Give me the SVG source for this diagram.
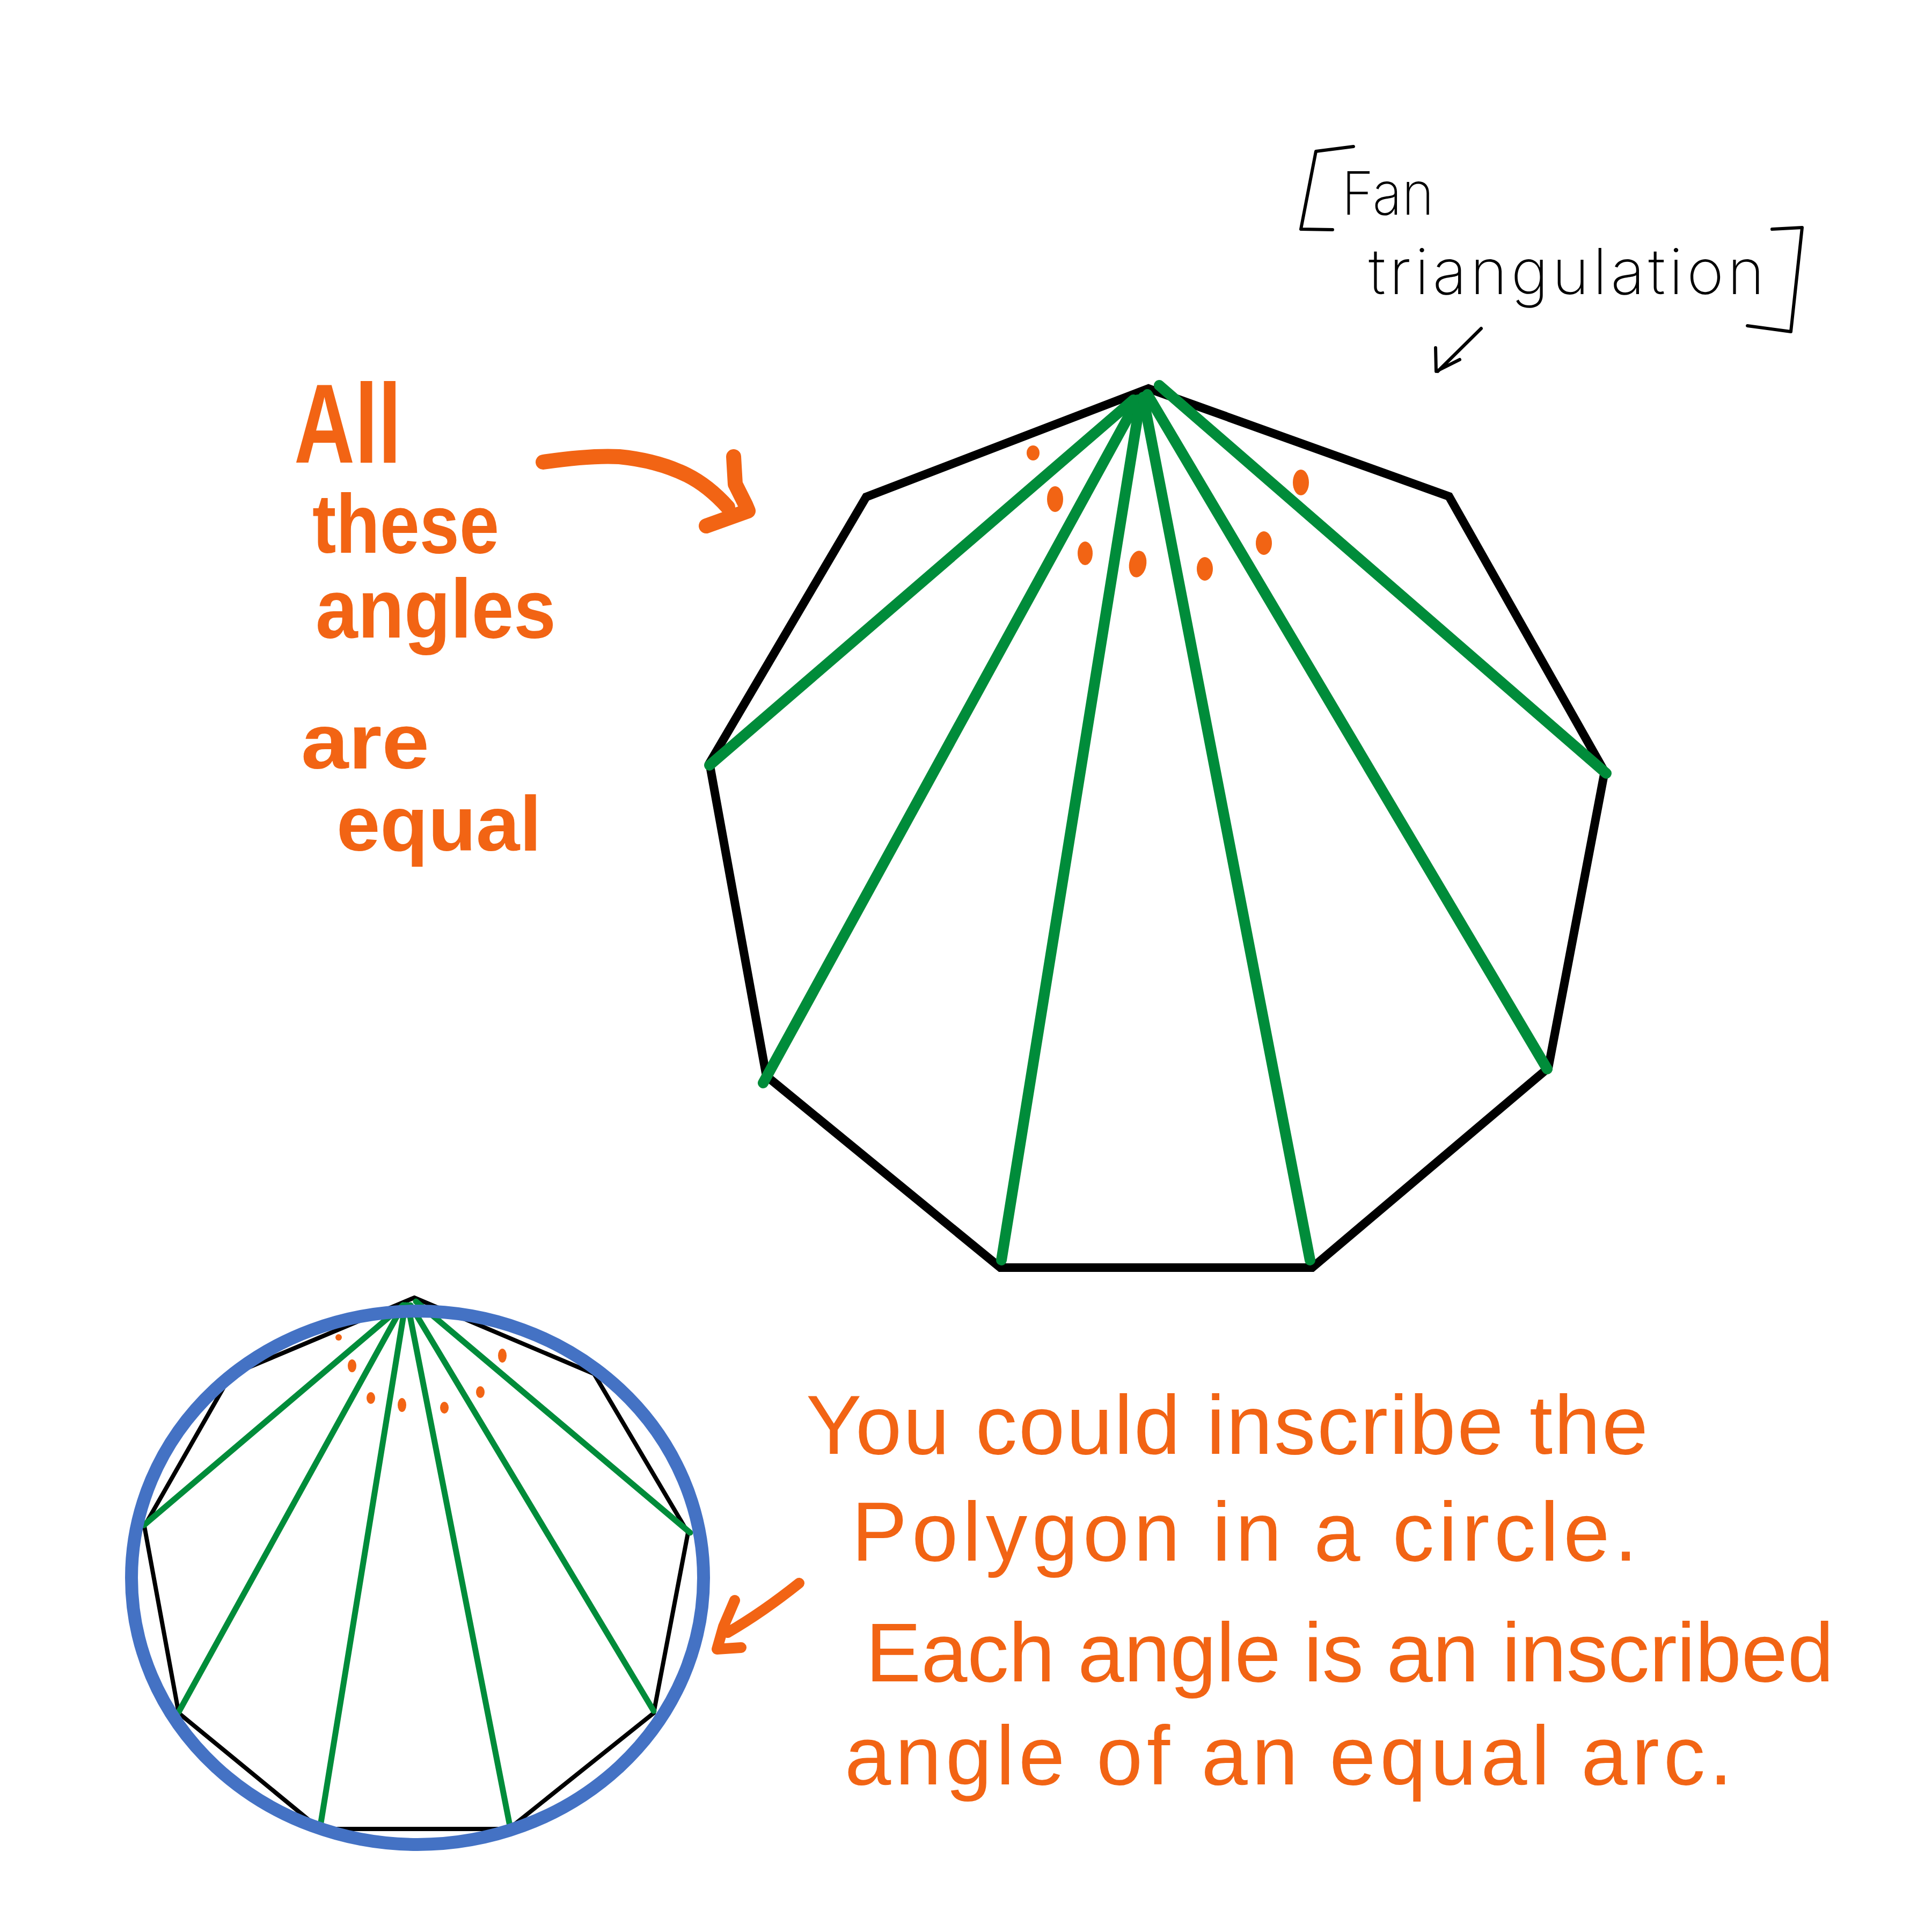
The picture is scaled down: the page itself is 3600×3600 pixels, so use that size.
<svg xmlns="http://www.w3.org/2000/svg" width="3600" height="3600" viewBox="0 0 3600 3600">
<style>
.poly{fill:none;stroke:#000;stroke-width:16;stroke-linejoin:miter;stroke-linecap:round}
.fan{fill:none;stroke:#008C3A;stroke-width:20;stroke-linecap:round}
.spoly{fill:none;stroke:#000;stroke-width:8;stroke-linejoin:miter}
.sfan{fill:none;stroke:#008C3A;stroke-width:11;stroke-linecap:round}
.dot{fill:#F26414}
.oarrow{fill:none;stroke:#F26414;stroke-linecap:round;stroke-linejoin:round}
.thin{fill:none;stroke:#000;stroke-width:6;stroke-linecap:round;stroke-linejoin:round}
.note{font-family:Inter,"Liberation Sans",sans-serif;font-weight:200;fill:#000}
.big{font-family:"Liberation Sans",Arial,sans-serif;font-weight:bold;fill:#F26414}
.hand{font-family:"Liberation Sans",Arial,sans-serif;fill:#F26414}
</style>
<rect width="3600" height="3600" fill="#fff"/>

<g id="main-nonagon">
<polygon class="poly" points="2140,724 2700,925 2990,1438 2885,1990 2445,2362 1864,2362 1428,2005 1322,1422 1614,926"/>
</g>

<g id="connectors">
<g id="main-fan">
<line class="fan" x1="2112" y1="745" x2="1322" y2="1426"/>
<line class="fan" x1="2120" y1="745" x2="1422" y2="2018"/>
<line class="fan" x1="2125" y1="745" x2="1866" y2="2348"/>
<line class="fan" x1="2130" y1="740" x2="2441" y2="2348"/>
<line class="fan" x1="2138" y1="735" x2="2883" y2="1992"/>
<line class="fan" x1="2160" y1="718" x2="2993" y2="1441"/>
</g>
<path id="arrow-angles" class="oarrow" stroke-width="28" d="M1012,861 Q1100,848 1154,851 Q1225,858 1280,885 Q1320,905 1356,945 M1367,851 L1370,902 L1389,940 L1394,952 L1316,980"/>
<path id="arrow-fan" class="thin" d="M2760,612 L2679,692 M2675,648 L2676,692 L2720,670"/>
<path id="arrow-circle" class="oarrow" stroke-width="20" d="M1489,2950 Q1420,3005 1356,3042 M1369,2982 L1348,3031 L1336,3073 L1381,3070"/>
</g>

<g id="main-angle-marks">
<ellipse class="dot" cx="1925" cy="844" rx="12" ry="14"/>
<ellipse class="dot" cx="1966" cy="930" rx="15" ry="24"/>
<ellipse class="dot" cx="2022" cy="1031" rx="14" ry="22"/>
<ellipse class="dot" cx="2120" cy="1051" rx="16" ry="25" transform="rotate(10 2120 1051)"/>
<ellipse class="dot" cx="2245" cy="1060" rx="15" ry="22"/>
<ellipse class="dot" cx="2355" cy="1012" rx="15" ry="22"/>
<ellipse class="dot" cx="2424" cy="899" rx="15" ry="24"/>
</g>

<g id="fan-label">
<path class="thin" d="M2522,273 L2452,282 L2424,427 L2483,428"/>
<path class="thin" d="M3302,427 L3358,424 L3337,618 L3256,607"/>
<text class="note" x="2500" y="400" font-size="112" textLength="172" lengthAdjust="spacingAndGlyphs">Fan</text>
<text class="note" x="2550" y="548" font-size="118" textLength="738" lengthAdjust="spacing">triangulation</text>
</g>

<g id="angles-label">
<text class="big" x="548" y="862" font-size="210" textLength="200" lengthAdjust="spacingAndGlyphs">All</text>
<text class="big" x="582" y="1030" font-size="155" textLength="348" lengthAdjust="spacingAndGlyphs">these</text>
<text class="big" x="588" y="1188" font-size="155" textLength="448" lengthAdjust="spacingAndGlyphs">angles</text>
<text class="big" x="561" y="1432" font-size="145" textLength="239" lengthAdjust="spacingAndGlyphs">are</text>
<text class="big" x="627" y="1585" font-size="145" textLength="382" lengthAdjust="spacingAndGlyphs">equal</text>
</g>

<g id="inscribed-diagram">
<polygon class="spoly" points="772,2418 1107,2560 1282,2856 1218,3192 948,3408 596,3408 333,3192 269,2844 430,2562"/>
<g id="small-fan">
<line class="sfan" x1="751" y1="2432" x2="268" y2="2842"/>
<line class="sfan" x1="751" y1="2432" x2="333" y2="3190"/>
<line class="sfan" x1="755" y1="2432" x2="597" y2="3402"/>
<line class="sfan" x1="760" y1="2432" x2="950" y2="3402"/>
<line class="sfan" x1="765" y1="2432" x2="1218" y2="3188"/>
<line class="sfan" x1="775" y1="2425" x2="1286" y2="2856"/>
</g>
<ellipse id="circle" cx="778" cy="2940" rx="533" ry="497" fill="none" stroke="#4472C4" stroke-width="24"/>
<g id="small-angle-marks">
<ellipse class="dot" cx="631" cy="2492" rx="6" ry="6"/>
<ellipse class="dot" cx="656" cy="2545" rx="8" ry="12"/>
<ellipse class="dot" cx="691" cy="2605" rx="8" ry="11"/>
<ellipse class="dot" cx="749" cy="2618" rx="8" ry="13"/>
<ellipse class="dot" cx="828" cy="2623" rx="8" ry="11"/>
<ellipse class="dot" cx="895" cy="2594" rx="8" ry="11"/>
<ellipse class="dot" cx="936" cy="2526" rx="8" ry="13"/>
</g>
</g>

<g id="inscribe-note">
<text class="hand" x="1502" y="2709" font-size="155" textLength="1569" lengthAdjust="spacing">You could inscribe the</text>
<text class="hand" x="1587" y="2908" font-size="155" textLength="1464" lengthAdjust="spacing">Polygon in a circle.</text>
<text class="hand" x="1613" y="3133" font-size="155" textLength="1804" lengthAdjust="spacing">Each angle is an inscribed</text>
<text class="hand" x="1574" y="3325" font-size="155" textLength="1654" lengthAdjust="spacing">angle of an equal arc.</text>
</g>
</svg>
